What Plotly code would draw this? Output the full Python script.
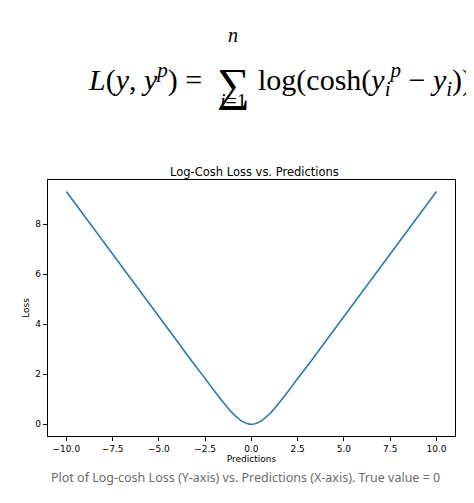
import plotly.graph_objects as go

# values
predictions = [-10, -9, -8, -7, -6, -5, -4, -3, -2.5, -2, -1.5, -1, -0.5, 0,
               0.5, 1, 1.5, 2, 2.5, 3, 4, 5, 6, 7, 8, 9, 10]
loss = [9.31, 8.31, 7.31, 6.31, 5.31, 4.31, 3.31, 2.31, 1.83, 1.33, 0.86, 0.43, 0.12, 0.0,
        0.12, 0.43, 0.86, 1.33, 1.83, 2.31, 3.31, 4.31, 5.31, 6.31, 7.31, 8.31, 9.31]
x_ticks = [-10, -7.5, -5, -2.5, 0, 2.5, 5, 7.5, 10]
x_labels = ["\u221210.0", "\u22127.5", "\u22125.0", "\u22122.5", "0.0", "2.5", "5.0", "7.5", "10.0"]
y_ticks = [0, 2, 4, 6, 8]

fig = go.Figure()
fig.add_trace(go.Scatter(x=predictions, y=loss, mode="lines", line=dict(color="#1f77b4", width=1.5, shape="spline")))

axis_style = dict(showline=True, linecolor="black", linewidth=1, mirror=True, ticks="outside",
                  ticklen=4, tickcolor="black", showgrid=False, zeroline=False,
                  tickfont=dict(family="DejaVu Sans", size=9, color="black"))
fig.update_xaxes(range=[-11, 11], tickvals=x_ticks, ticktext=x_labels, domain=[0.084, 0.943],
                 title=dict(text="Predictions", font=dict(family="DejaVu Sans", size=9, color="black"), standoff=2),
                 **axis_style)
fig.update_yaxes(range=[-0.47, 9.77], tickvals=y_ticks, domain=[0.149, 0.658],
                 title=dict(text="Loss", font=dict(family="DejaVu Sans", size=9, color="black"), standoff=4),
                 **axis_style)

# formula, built from pieces
serif = dict(family="Liberation Serif", size=30, color="black")
fig.add_annotation(x=0.413, y=0.905, xref="paper", yref="paper", xanchor="right", showarrow=False, font=serif,
                   text="<i>L</i>(<i>y</i>, <i>y<sup>p</sup></i>) =")
fig.add_annotation(x=0.475, y=0.902, xref="paper", yref="paper", showarrow=False,
                   font=dict(family="Liberation Serif", size=46, color="black"), text="\u2211")
fig.add_annotation(x=0.475, y=0.972, xref="paper", yref="paper", showarrow=False,
                   font=dict(family="Liberation Serif", size=20, color="black"), text="<i>n</i>")
fig.add_annotation(x=0.475, y=0.84, xref="paper", yref="paper", showarrow=False,
                   font=dict(family="Liberation Serif", size=20, color="black"), text="<i>i</i>=1")
fig.add_annotation(x=0.523, y=0.905, xref="paper", yref="paper", xanchor="left", showarrow=False, font=serif,
                   text="log(cosh(<i>y<sub>i</sub><sup>p</sup></i> \u2212 <i>y<sub>i</sub></i>))")

fig.add_annotation(x=0.52, y=0.692, xref="paper", yref="paper", showarrow=False,
                   font=dict(family="DejaVu Sans", size=11.5, color="black"), text="Log-Cosh Loss vs. Predictions")
fig.add_annotation(x=0.5, y=0.046, xref="paper", yref="paper", showarrow=False,
                   font=dict(family="Noto Sans", size=12.5, color="#6b6b6b"),
                   text="Plot of Log-cosh Loss (Y-axis) vs. Predictions (X-axis). True value = 0")

fig.update_layout(width=474, height=503, margin=dict(l=0, r=0, t=0, b=0),
                  plot_bgcolor="white", paper_bgcolor="white", showlegend=False)
fig.write_html("out.html")
